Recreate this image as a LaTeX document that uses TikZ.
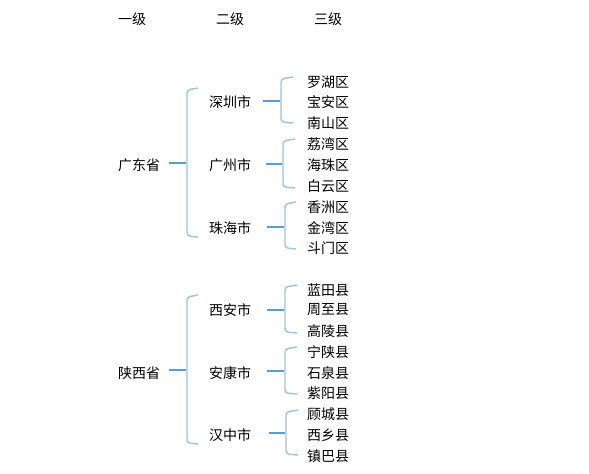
\documentclass[tikz,border=0pt]{standalone}
\usepackage{fontspec}
\newfontfamily\cjk{Noto Sans CJK SC}
\definecolor{bracelight}{RGB}{157,195,230}
\definecolor{bracedark}{RGB}{91,155,213}
\tikzset{
  lbl/.style={font=\cjk\fontsize{10.5}{12}\selectfont, inner sep=1pt, text=black},
  stemline/.style={draw=bracedark, line width=1.3pt},
  braceline/.style={draw=bracelight, line width=1.1pt, rounded corners=2.5pt},
}
% #1 name, #2 stem y, #3 stem x start, #4 vertical x, #5 top y, #6 bottom y, #7 arm x
\newcommand\mybrace[7]{%
  \coordinate (#1s) at (#3,#2);
  \coordinate (#1t) at (#4-1,#2);
  \coordinate (#1a) at (#7,#5-2);
  \coordinate (#1b) at (#4,#5);
  \coordinate (#1c) at (#4,#6);
  \coordinate (#1d) at (#7,#6+1);
  \draw[braceline] (#1a) -- (#1b) -- (#1c) -- (#1d);
  \draw[stemline] (#1s) -- (#1t);
}
\begin{document}
\begin{tikzpicture}[x=0.75pt,y=-0.75pt]
\useasboundingbox[fill=white] (0,0) rectangle (589,474);
% headers
\node[lbl] (h1) at (132,19) {一级};
\node[lbl] (h2) at (230,19) {二级};
\node[lbl] (h3) at (328,19) {三级};
% level 1
\node[lbl] (gd) at (139,165) {广东省};
\node[lbl] (sx) at (139,373) {陕西省};
% level 2
\node[lbl] (sz) at (230,102) {深圳市};
\node[lbl] (gz) at (230,165) {广州市};
\node[lbl] (zh) at (230,228) {珠海市};
\node[lbl] (xa) at (230,310) {西安市};
\node[lbl] (ak) at (230,373) {安康市};
\node[lbl] (hz) at (230,435) {汉中市};
% level 3
\node[lbl] (d1) at (328,82) {罗湖区};
\node[lbl] (d2) at (328,102) {宝安区};
\node[lbl] (d3) at (328,123) {南山区};
\node[lbl] (d4) at (328,144) {荔湾区};
\node[lbl] (d5) at (328,165) {海珠区};
\node[lbl] (d6) at (328,186) {白云区};
\node[lbl] (d7) at (328,207) {香洲区};
\node[lbl] (d8) at (328,228) {金湾区};
\node[lbl] (d9) at (328,248) {斗门区};
\node[lbl] (c1) at (328,290) {蓝田县};
\node[lbl] (c2) at (328,310) {周至县};
\node[lbl] (c3) at (328,331) {高陵县};
\node[lbl] (c4) at (328,352) {宁陕县};
\node[lbl] (c5) at (328,373) {石泉县};
\node[lbl] (c6) at (328,393) {紫阳县};
\node[lbl] (c7) at (328,414) {顾城县};
\node[lbl] (c8) at (328,435) {西乡县};
\node[lbl] (c9) at (328,456) {镇巴县};
% braces
\mybrace{bgd}{163}{169}{187}{90}{236}{198}
\mybrace{bsz}{101}{263}{281}{79}{122}{293}
\mybrace{bgz}{164}{266}{283}{141}{187}{295}
\mybrace{bzh}{227}{267}{285}{204}{248}{296}
\mybrace{bsx}{370}{169}{187}{297}{443}{198}
\mybrace{bxa}{310}{267}{285}{287}{332}{297}
\mybrace{bak}{371}{267}{285}{349}{393}{297}
\mybrace{bhz}{433}{269}{286}{412}{454}{298}
\end{tikzpicture}
\end{document}
